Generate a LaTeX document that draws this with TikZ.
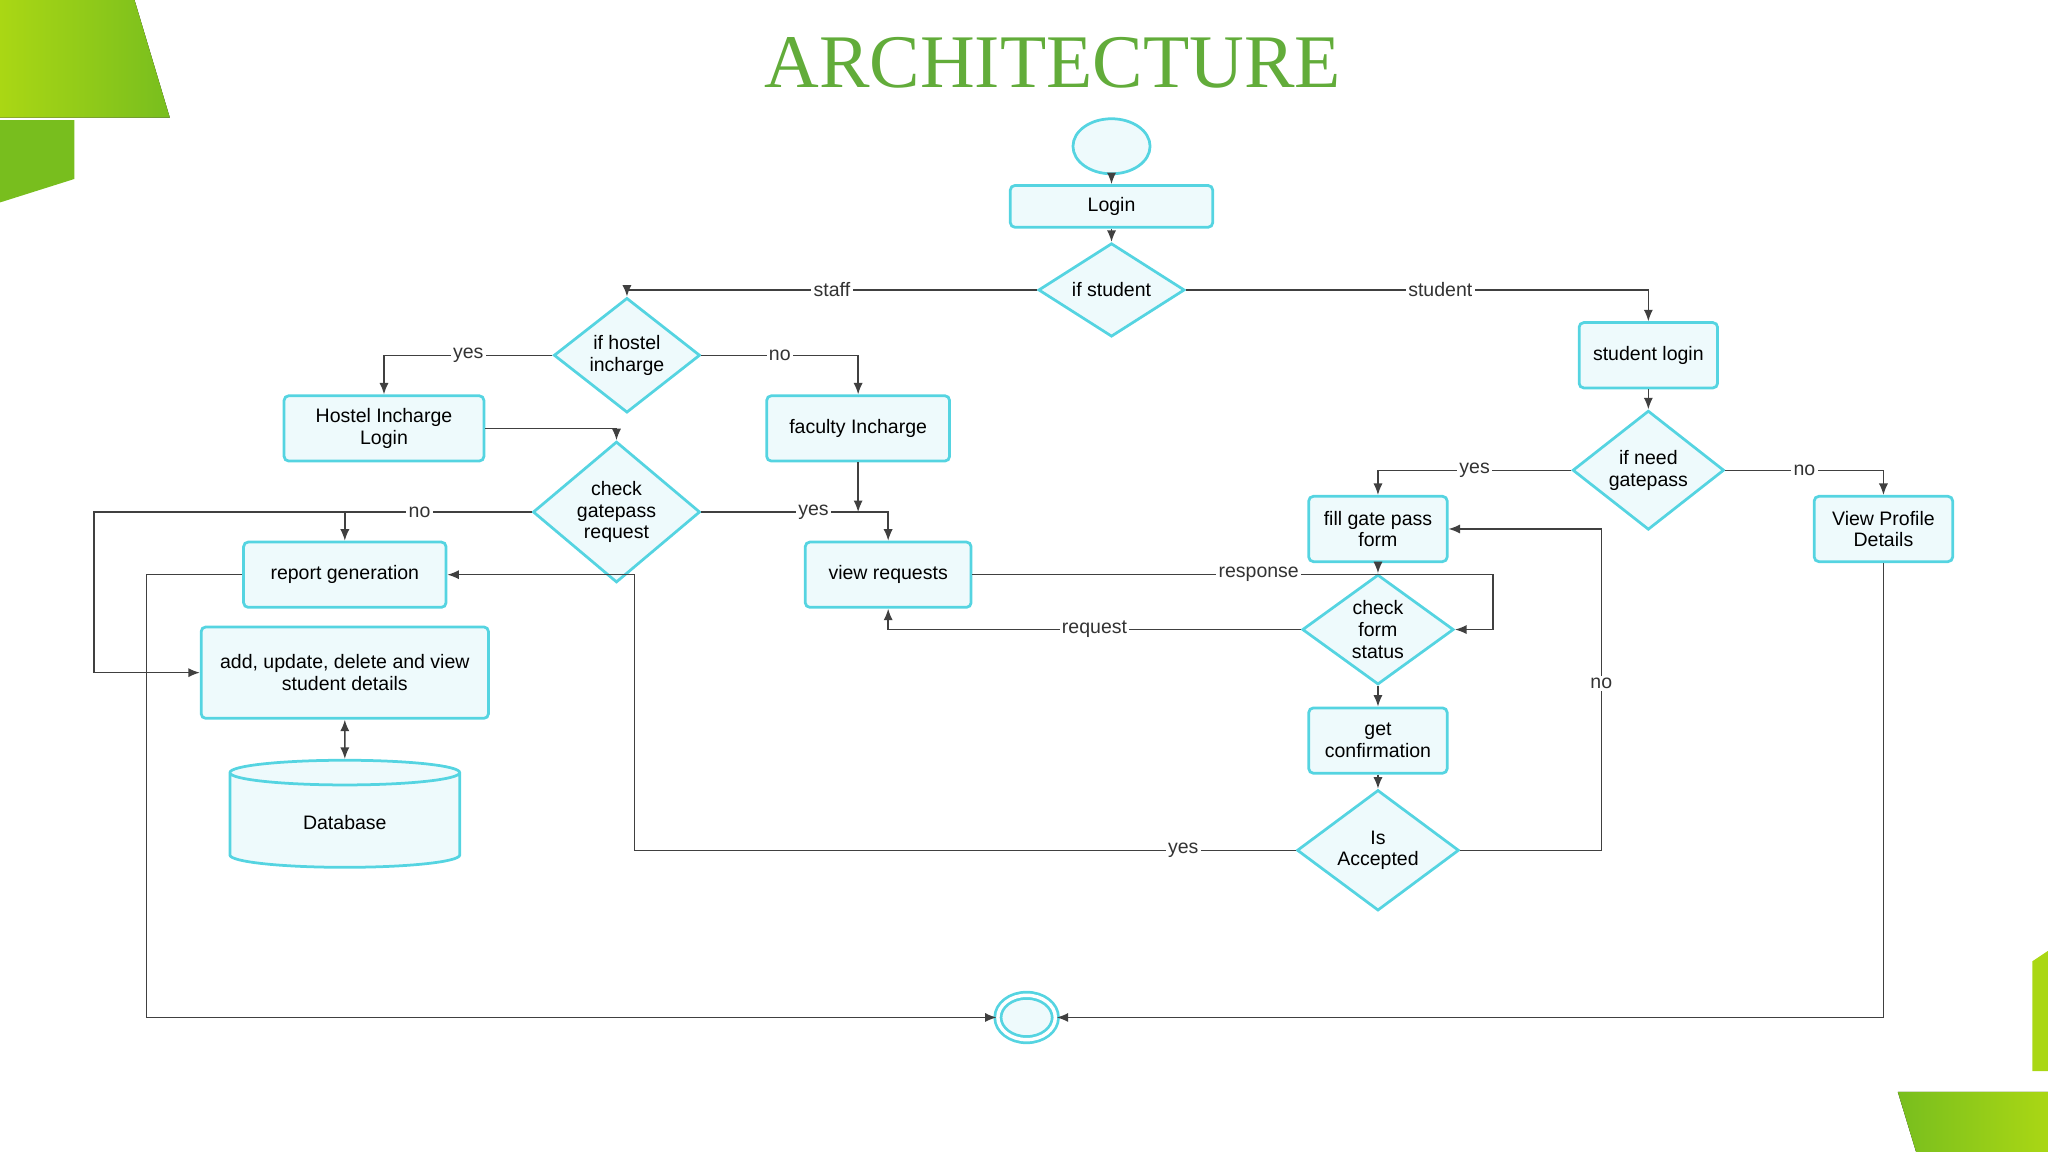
\documentclass[tikz,border=0pt]{standalone}
\usepackage{fontspec}
\setmainfont{Liberation Sans}
\newfontfamily\titlefont{Liberation Serif}
\usetikzlibrary{shapes.geometric,arrows.meta}
\definecolor{boxline}{RGB}{85,212,225}
\definecolor{boxfill}{RGB}{238,250,252}
\definecolor{titlegreen}{RGB}{98,172,58}
\definecolor{leafgreen}{RGB}{120,190,30}
\definecolor{limegreen}{RGB}{170,215,20}
\begin{document}
\begin{tikzpicture}[
        x={(0.02cm,0)}, y={(0,-0.02cm)},
        box/.style={rectangle, draw=boxline, fill=boxfill, line width=1.2pt, rounded corners=2pt, align=center, font=\fontsize{8.5}{9.5}\selectfont, inner sep=1pt},
        decision/.style={diamond, draw=boxline, fill=boxfill, line width=1.2pt, align=center, font=\fontsize{8.5}{9.5}\selectfont, inner sep=0pt},
        arrow/.style={-{Latex[length=5pt,width=4pt]}, draw=black!75, line width=0.6pt},
        line/.style={draw=black!75, line width=0.6pt},
        lbl/.style={fill=white, inner sep=1pt, font=\fontsize{8.5}{9.5}\selectfont, text=black!80}
    ]
        \useasboundingbox (0,0) rectangle (1568,882);
        % corner decoration
        \fill[left color=limegreen, right color=leafgreen] (0,0) -- (103,0) -- (130,90) -- (0,90) -- cycle;
        \fill[leafgreen] (0,92) -- (57,92) -- (57,137) -- (0,155) -- cycle;
        \fill[left color=leafgreen, right color=limegreen] (1453,836) -- (1568,836) -- (1568,882) -- (1467,882) -- cycle;
        \fill[limegreen] (1556,736) -- (1568,728) -- (1568,820) -- (1556,820) -- cycle;
        \node[font=\titlefont\fontsize{33}{36}\selectfont, text=titlegreen] (title) at (806,48) {ARCHITECTURE};

        \node[ellipse, draw=boxline, fill=boxfill, line width=1.2pt, minimum width=28\pgflinewidth, minimum height=20\pgflinewidth, inner sep=0pt] (start) at (851,112) {};
        \node[box, minimum width=3.1cm, minimum height=0.64cm] (login) at (851,158) {Login};
        \node[decision, minimum width=2.24cm, minimum height=1.16cm] (student) at (851,222) {if student};
        \node[box, minimum width=2.12cm, minimum height=1cm] (slogin) at (1262,272) {student login};
        \node[decision, minimum width=2.24cm, minimum height=1.48cm] (hostel) at (480,272) {if hostel\\incharge};
        \node[box, minimum width=3.06cm, minimum height=1cm] (hlogin) at (294,328) {Hostel Incharge\\Login};
        \node[box, minimum width=2.8cm, minimum height=1cm] (faculty) at (657,328) {faculty Incharge};
        \node[decision, minimum width=2.56cm, minimum height=1.48cm] (check) at (472,392) {check\\gatepass\\request};
        \node[box, minimum width=3.1cm, minimum height=1cm] (report) at (264,440) {report generation};
        \node[box, minimum width=4.4cm, minimum height=1.4cm] (manage) at (264,515) {add, update, delete and view\\student details};
        \node[cylinder, shape border rotate=90, aspect=0.25, draw=boxline, fill=boxfill, line width=1.2pt, minimum width=3.52cm, minimum height=1.64cm, font=\fontsize{8.5}{9.5}\selectfont] (db) at (264,630) {Database};
        \node[box, minimum width=2.54cm, minimum height=1cm] (view) at (680,440) {view requests};
        \node[decision, minimum width=2.32cm, minimum height=1.52cm] (need) at (1262,360) {if need\\gatepass};
        \node[box, minimum width=2.12cm, minimum height=1cm] (fill) at (1055,405) {fill gate pass\\form};
        \node[box, minimum width=2.12cm, minimum height=1cm] (profile) at (1442,405) {View Profile\\Details};
        \node[decision, minimum width=2.32cm, minimum height=1.64cm] (status) at (1055,482) {check\\form\\status};
        \node[box, minimum width=2.12cm, minimum height=1cm] (confirm) at (1055,567) {get\\confirmation};
        \node[decision, minimum width=2.48cm, minimum height=1.48cm] (accept) at (1055,651) {Is\\Accepted};
        \node[ellipse, draw=boxline, fill=boxfill, line width=1.2pt, double, double distance=1.5pt, minimum width=0.88cm, minimum height=0.68cm] (end) at (786,779) {};
        \coordinate (facend) at (657,392);

        \draw[arrow] (start) -- (login);
        \draw[arrow] (login) -- (student);
        \draw[arrow] (student.west) -- node[lbl, pos=0.5] {staff} (480,222) -- (hostel.north);
        \draw[arrow] (student.east) -- node[lbl, pos=0.55] {student} (1262,222) -- (slogin.north);
        \draw[arrow] (hostel.west) -- node[lbl] {yes} (294,272) -- (hlogin.north);
        \draw[arrow] (hostel.east) -- node[lbl] {no} (657,272) -- (faculty.north);
        \draw[arrow] (hlogin.east) -- (472,328) -- (check.north);
        \draw[arrow] (faculty.south) -- (facend);
        \draw[arrow] (check.east) -- node[lbl, pos=0.6] {yes} (680,392) -- (view.north);
        \draw[arrow] (check.west) -- node[lbl, pos=0.6] {no} (264,392) -- (report.north);
        \draw[arrow] (264,392) -- (72,392) -- (72,515) -- (manage.west);
        \draw[{Latex[length=5pt,width=4pt]}-{Latex[length=5pt,width=4pt]}, line] (manage.south) -- (db.north);
        \draw[arrow] (report.west) -- (112,440) -- (112,779) -- (end.west);
        \draw[arrow] (profile.south) -- (1442,779) -- (end.east);
        \draw[arrow] (slogin) -- (need);
        \draw[arrow] (need.west) -- node[lbl] {yes} (1055,360) -- (fill.north);
        \draw[arrow] (need.east) -- node[lbl] {no} (1442,360) -- (profile.north);
        \draw[arrow] (fill) -- (status);
        \draw[arrow] (view.east) -- node[lbl, pos=0.55] {response} (1143,440) -- (1143,482) -- (status.east);
        \draw[arrow] (status.west) -- node[lbl] {request} (680,482) -- (view.south);
        \draw[arrow] (status) -- (confirm);
        \draw[arrow] (confirm) -- (accept);
        \draw[arrow] (accept.east) -- (1226,651) -- node[lbl, pos=0.52] {no} (1226,405) -- (fill.east);
        \draw[arrow] (accept.west) -- node[lbl, pos=0.17] {yes} (486,651) -- (486,440) -- (report.east);
    \end{tikzpicture}
\end{document}
